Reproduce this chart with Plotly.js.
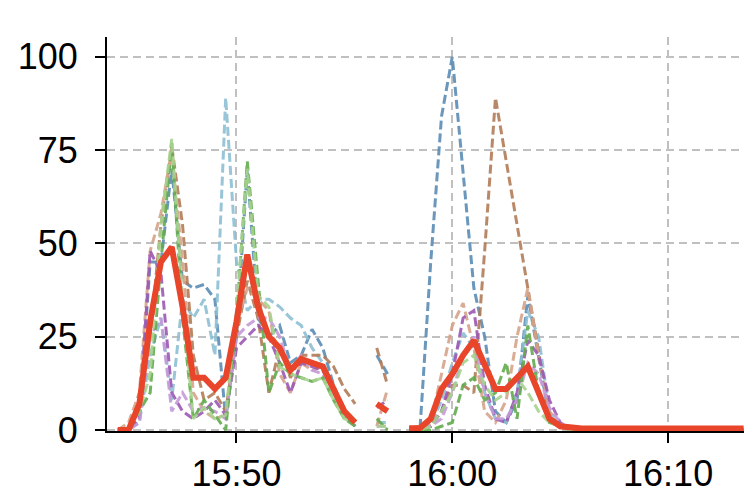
<!DOCTYPE html>
<html>
<head>
<meta charset="utf-8">
<script src="https://cdn.plot.ly/plotly-3.0.1.min.js"></script>
<style>
html,body{margin:0;padding:0;background:#fff;}
#chart{width:744px;height:504px;}
</style>
</head>
<body>
<div id="chart"></div>
<script>
// Sample times (30 s steps)
const times = [
 "15:44:30","15:45:00","15:45:30","15:46:00","15:46:30","15:47:00","15:47:30","15:48:00","15:48:30","15:49:00",
 "15:49:30","15:50:00","15:50:30","15:51:00","15:51:30","15:52:00","15:52:30","15:53:00","15:53:30","15:54:00",
 "15:54:30","15:55:00","15:55:30","15:56:00","15:56:30","15:57:00","15:57:30","15:58:00","15:58:30","15:59:00",
 "15:59:30","16:00:00","16:00:30","16:01:00","16:01:30","16:02:00","16:02:30","16:03:00","16:03:30","16:04:00",
 "16:04:30","16:05:00","16:05:30","16:06:00","16:06:30","16:07:00","16:07:30","16:08:00","16:08:30","16:09:00",
 "16:09:30","16:10:00","16:10:30","16:11:00","16:11:30","16:12:00","16:12:30","16:13:00","16:13:30"
];

const seriesBlue = [0,0,3,45,45,70,40,38,39,35, 3,25,70,30,25,28,18,20,27,22, 12,5,1,null,20,15,null,0,0,45, 84,100,68,38,25,5,2,8,36,20, 3,1,0,0,0,0,0,0,0,0, 0,0,0,0,0,0,0,0,0];
const seriesLightBlue = [0,0,2,20,30,8,35,30,35,20, 89,45,32,35,35,33,30,28,22,18, 12,5,2,null,2,2,null,0.5,0.5,1, 8,18,26,22,10,3,2,10,32,25, 5,1,0,0,0,0,0,0,0,0, 0,0,0,0,0,0,0,0,0];
const seriesBrown = [0,0,8,25,55,76,55,20,8,10, 5,25,40,30,10,22,14,20,20,20, 17,11,7,null,22,12,null,0.5,1,1, 5,12,12,10,48,89,72,55,38,20, 4,1,0,0,0,0,0,0,0,0, 0,0,0,0,0,0,0,0,0];
const seriesLightBrown = [0,2,10,48,58,75,45,10,5,3, 4,28,38,35,32,15,10,18,16,17, 11,5,2,null,1,11,null,0.5,0.5,2, 15,28,34,22,5,2,8,25,38,20, 5,1,0,0,0,0,0,0,0,0, 0,0,0,0,0,0,0,0,0];
const seriesPurple = [0,0,3,48,42,10,5,3,5,8, 4,22,25,28,25,18,10,18,17,16, 10,4,1,null,6,8,null,0.5,0.5,1, 5,15,30,32,12,3,2,10,24,20, 8,2,0,0,0,0,0,0,0,0, 0,0,0,0,0,0,0,0,0];
const seriesLightPurple = [0,0,2,25,30,5,10,5,6,5, 3,25,28,30,30,25,16,20,16,15, 10,4,1,null,1,1,null,0.5,0.5,1, 3,10,20,25,10,3,3,8,18,15, 6,2,0,0,0,0,0,0,0,0, 0,0,0,0,0,0,0,0,0];
const seriesGreen = [0,0,5,10,45,77,30,3,8,4, 0,30,72,40,10,18,15,14,13,14, 8,3,1,null,3,0,null,0,0,0, 1,2,12,14,8,10,18,3,28,10, 2,1,0,0,0,0,0,0,0,0, 0,0,0,0,0,0,0,0,0];
const seriesLightGreen = [0,0,5,15,55,78,35,3,6,3, 4,32,70,36,33,17,15,14,13,14, 8,3,2,null,1,1,null,0,0,1, 5,10,18,20,12,8,10,14,10,5, 2,1,0,0,0,0,0,0,0,0, 0,0,0,0,0,0,0,0,0];
const meanValues = [0,0,7,29,45,49,33,14,14,11, 14,29,47,33,25,22,16,19,18,17, 11,5,2,null,7,5,null,0.5,0.5,3, 11,15,20,24,17,11,11,14,17,10, 3,1,0.5,0.4,0.4,0.4,0.4,0.4,0.4,0.4, 0.4,0.4,0.4,0.4,0.4,0.4,0.4,0.4,0.4];

const seriesList = [
  {y: seriesBlue, color: "#5a8cb4"},
  {y: seriesLightBlue, color: "#8dbfd3"},
  {y: seriesBrown, color: "#b27c58"},
  {y: seriesLightBrown, color: "#d6a38a"},
  {y: seriesPurple, color: "#9c58b4"},
  {y: seriesLightPurple, color: "#c49ad6"},
  {y: seriesGreen, color: "#63ab4f"},
  {y: seriesLightGreen, color: "#a6d38e"}
];

const day = "2024-01-01 ";
const xs = times.map(t => day + t);

const traces = seriesList.map(s => ({
  type: "scatter", mode: "lines", x: xs, y: s.y,
  line: {color: s.color, width: 3, dash: "9px,4px"},
  opacity: 0.9, connectgaps: false, hoverinfo: "skip", showlegend: false
}));
traces.push({
  type: "scatter", mode: "lines", x: xs, y: meanValues,
  line: {color: "#e8452a", width: 6}, connectgaps: false, showlegend: false
});

const layout = {
  width: 744, height: 504,
  margin: {l: 107, r: 0, t: 37, b: 73},
  paper_bgcolor: "#ffffff", plot_bgcolor: "#ffffff",
  font: {family: "Liberation Sans, Arial, sans-serif", size: 36, color: "#000"},
  showlegend: false,
  xaxis: {
    type: "date",
    range: [day + "15:44:00", day + "16:13:31"],
    tick0: day + "15:50:00", dtick: 600000, tickformat: "%H:%M",
    showgrid: true, gridcolor: "#c0c0c0", gridwidth: 2, griddash: "8px,5px",
    showline: true, linecolor: "#000", linewidth: 2,
    ticks: "outside", ticklen: 10, tickwidth: 2, tickcolor: "#000",
    ticklabelstandoff: 0,
    tickfont: {size: 36, color: "#000"},
    zeroline: false
  },
  yaxis: {
    range: [-0.27, 105.3],
    tickvals: [0, 25, 50, 75, 100],
    showgrid: true, gridcolor: "#c0c0c0", gridwidth: 2, griddash: "8px,5px",
    showline: true, linecolor: "#000", linewidth: 2,
    ticks: "outside", ticklen: 10, tickwidth: 2, tickcolor: "#000",
    ticklabelstandoff: 10,
    tickfont: {size: 36, color: "#000"},
    zeroline: false
  }
};

Plotly.newPlot("chart", traces, layout, {displayModeBar: false, staticPlot: true});
</script>
</body>
</html>
